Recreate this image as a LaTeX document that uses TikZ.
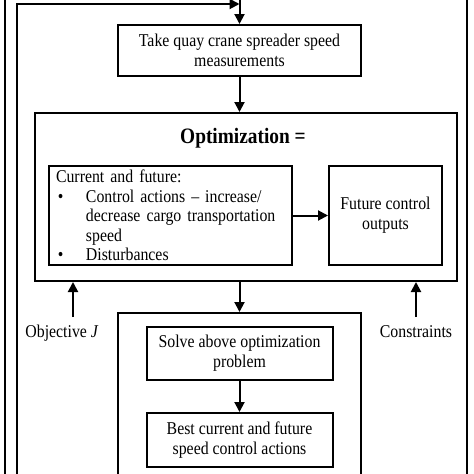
\documentclass[tikz,border=0pt]{standalone}
\usepackage{fontspec}
\setmainfont{Liberation Serif}[FakeStretch=0.88]
\usetikzlibrary{arrows.meta}

\begin{document}
\begin{tikzpicture}[
    x=1pt, y=-1pt, % pixel coordinates, y grows downwards
    box/.style={draw, line width=2pt, inner sep=0pt, align=center, font=\fontsize{18}{20}\selectfont}, % all framed boxes
    arr/.style={line width=2pt, -{Triangle[length=10pt,width=10pt]}}, % connectors
    lbl/.style={inner sep=0pt, font=\fontsize{18}{20}\selectfont} % free texts
]
\useasboundingbox (0,0) rectangle (474,474);
\clip (0,0) rectangle (474,474);

% outer frame lines
\draw[line width=2pt] (5,-20) -- (5,500);
\draw[line width=2pt] (467,-20) -- (467,500);

\node[box, minimum width=243pt, minimum height=51pt] (take) at (239.5,50.5) {Take quay crane spreader speed\\measurements};

\node[box, minimum width=422pt, minimum height=168pt] (opt) at (246,197) {};
\node[lbl, font=\fontsize{22}{24}\selectfont\bfseries] (opttitle) at (243,138) {Optimization =};
\node[box, text width=229pt, inner xsep=7pt, minimum height=99pt, align=left, font=\fontsize{18}{19.5}\selectfont] (current) at (170.5,215.5) {
    Current and future:\\
    \hspace*{2pt}\makebox[28pt][l]{\textbullet}Control actions -- increase/\\
    \hspace*{30pt}decrease cargo transportation\\
    \hspace*{30pt}speed\\
    \hspace*{2pt}\makebox[28pt][l]{\textbullet}Disturbances};
\node[box, minimum width=113pt, minimum height=99pt] (future) at (385.5,215.5) {Future control\\outputs};

\node[box, minimum width=243pt, minimum height=200pt] (solver) at (239.5,413) {};
\node[box, minimum width=186pt, minimum height=53pt] (solve) at (239.5,353.5) {Solve above optimization\\problem};
\node[box, minimum width=186pt, minimum height=54pt] (best) at (239.5,440) {Best current and future\\speed control actions};

\node[lbl] (objective) at (62,333) {Objective \textit{J}};
\node[lbl] (constraints) at (416,332) {Constraints};

% feedback loop at the top
\coordinate (loopstart) at (17,500);
\coordinate (join) at (239.5,4);
\coordinate (feed) at (239.5,-20);
\draw[arr] (loopstart) |- (join);
\draw[arr] (feed) -- (take.north);

\draw[arr] (take.south) -- (take.south |- opt.north);
\draw[arr] (current) -- (future);
\draw[arr] (opt.south -| solver.north) -- (solver.north);
\draw[arr] (solve) -- (best);

\coordinate (objin) at (73,317);
\coordinate (conin) at (416,317);
\draw[arr] (objin) -- (objin |- opt.south);
\draw[arr] (conin) -- (conin |- opt.south);
\end{tikzpicture}
\end{document}
